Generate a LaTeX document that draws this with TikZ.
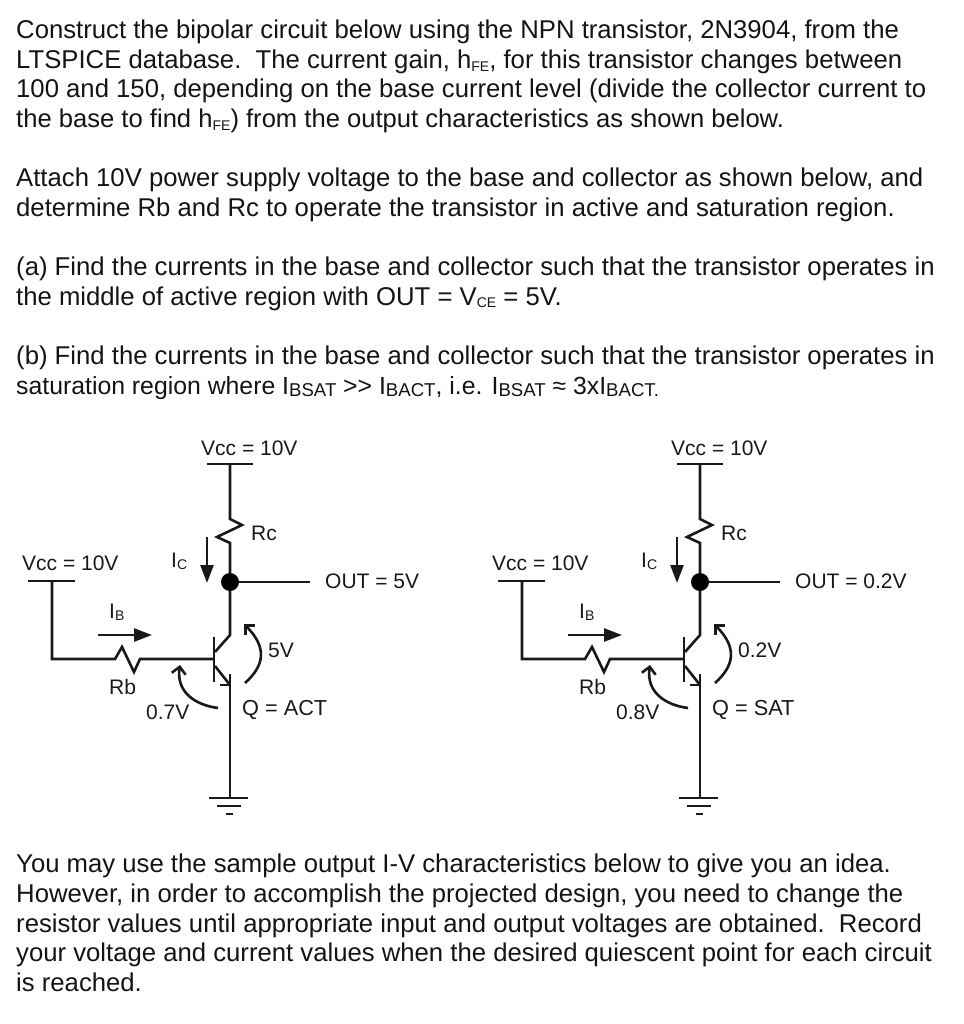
\documentclass[tikz,border=0pt]{standalone}
\usepackage{fontspec}
\setmainfont{Liberation Sans}
\usetikzlibrary{arrows.meta}
\newcommand{\sbs}[1]{\raisebox{-0.1em}{\fontsize{14pt}{14pt}\selectfont #1}}
\newcommand{\sbl}[1]{\raisebox{-0.1em}{\fontsize{18.6pt}{19pt}\selectfont #1}}
\newcommand{\sbn}[1]{\raisebox{-0.1em}{\fontsize{14pt}{14pt}\selectfont #1}}
\newcommand{\drawcircuit}[6]{%
\begin{scope}[xshift=#2pt]
  % named points
  \coordinate (#1topL) at (207,464); \coordinate (#1topR) at (253,464); \coordinate (#1top) at (230,464);
  \coordinate (#1rcA) at (230,519); \coordinate (#1rcB) at (242,525); \coordinate (#1rcC) at (217,537); \coordinate (#1rcD) at (230,543);
  \node[dot] (#1j) at (230,582) {};
  \coordinate (#1out) at (310,582);
  \coordinate (#1col) at (230,635); \coordinate (#1colB) at (215,652);
  \coordinate (#1barT) at (214,637); \coordinate (#1barB) at (214,682); \coordinate (#1base) at (214,659);
  \coordinate (#1emB) at (215,666); \coordinate (#1emT) at (230,685); \coordinate (#1emL) at (220,685);
  \coordinate (#1emW) at (230,674); \coordinate (#1gnd) at (230,798);
  \coordinate (#1g1L) at (209,798); \coordinate (#1g1R) at (248,798);
  \coordinate (#1g2L) at (217,806); \coordinate (#1g2R) at (241,806);
  \coordinate (#1g3L) at (226,814); \coordinate (#1g3R) at (233,814);
  \coordinate (#1vbL) at (28,581); \coordinate (#1vbR) at (75,581); \coordinate (#1vb) at (52,581);
  \coordinate (#1cor) at (52,659); \coordinate (#1rbA) at (115,659); \coordinate (#1rbB) at (122,647);
  \coordinate (#1rbC) at (134,672); \coordinate (#1rbD) at (140,659);
  % wires
  \draw[wire] (#1topL) -- (#1topR);
  \draw[wire] (#1top) -- (#1rcA) -- (#1rcB) -- (#1rcC) -- (#1rcD) -- (#1j) -- (#1col) -- (#1colB);
  \draw[wire] (#1j) -- (#1out);
  \draw[wire] (#1barT) -- (#1barB);
  \draw[wire] (#1emB) -- (#1emT);
  \draw[wire] (#1emL) -- (#1emT);
  \draw[wire] (#1emW) -- (#1gnd);
  \draw[wire] (#1g1L) -- (#1g1R);
  \draw[wire] (#1g2L) -- (#1g2R);
  \draw[wire] (#1g3L) -- (#1g3R);
  \draw[wire] (#1vbL) -- (#1vbR);
  \draw[wire] (#1vb) -- (#1cor) -- (#1rbA) -- (#1rbB) -- (#1rbC) -- (#1rbD) -- (#1base);
  % current arrows
  \coordinate (#1icA) at (207,537); \coordinate (#1icB) at (207,583);
  \coordinate (#1ibA) at (98,635); \coordinate (#1ibB) at (152,635);
  \draw[wire,-{Triangle[length=18pt,width=13pt]}] (#1icA) -- (#1icB);
  \draw[wire,-{Triangle[length=18pt,width=13pt]}] (#1ibA) -- (#1ibB);
  % voltage arrows
  \coordinate (#1vcA) at (245,683); \coordinate (#1vcB) at (244,624);
  \coordinate (#1vbeA) at (218,708); \coordinate (#1vbeB) at (180,665);
  \draw[wire,-{Straight Barb[length=7pt,width=14pt]}] (#1vcA) .. controls (264,666) and (268,648) .. (#1vcB);
  \draw[wire,-{Straight Barb[length=7pt,width=14pt]}] (#1vbeA) .. controls (195,705) and (176,692) .. (#1vbeB);
  % labels
  \node[lab] (#1lvcc) at (201,448) {Vcc = 10V};
  \node[lab] (#1lvb) at (22,563) {Vcc = 10V};
  \node[lab] (#1lrc) at (251,533) {Rc};
  \node[lab] (#1lrb) at (109,687) {Rb};
  \node[lab] (#1lic) at (171,561) {I\sbn{C}};
  \node[lab] (#1lib) at (109,612) {I\sbn{B}};
  \node[lab] (#1lout) at (325,581) {#3};
  \node[lab] (#1lvce) at (#4,650) {#5};
  \node[lab] (#1lvbe) at (146,712) {#6};
  \node[lab,font=\fontsize{21.7pt}{23pt}\selectfont] (#1lq) at (242,710) {Q = \ifnum#2=0 ACT\else SAT\fi};
\end{scope}}
\tikzset{
  wire/.style={line width=2.6pt,draw=black!90,line cap=butt},
  dot/.style={circle,fill=black,minimum size=18pt,inner sep=0pt,draw=none},
  lab/.style={anchor=west,inner sep=0pt,font=\fontsize{21pt}{23pt}\selectfont,text=black!90},
  para/.style={anchor=base west,inner sep=0pt,font=\fontsize{25.7pt}{28pt}\selectfont,text=black!92}
}
\begin{document}
\begin{tikzpicture}[x=1pt,y=-1pt]
\useasboundingbox (0,0) rectangle (963,1024);
\node[para] (l1) at (16,39) {Construct the bipolar circuit below using the NPN transistor, 2N3904, from the};
\node[para] (l2) at (16,69) {LTSPICE database.\ \ The current gain, h\sbs{FE}, for this transistor changes between};
\node[para] (l3) at (16,98) {100 and 150, depending on the base current level (divide the collector current to};
\node[para,font=\fontsize{25.6pt}{28pt}\selectfont] (l4) at (16,128) {the base to find h\sbs{FE}) from the output characteristics as shown below.};
\node[para] (l5) at (16,187) {Attach 10V power supply voltage to the base and collector as shown below, and};
\node[para] (l6) at (16,217) {determine Rb and Rc to operate the transistor in active and saturation region.};
\node[para] (l7) at (16,275) {(a) Find the currents in the base and collector such that the transistor operates in};
\node[para] (l8) at (16,305) {the middle of active region with OUT = V\sbs{CE} = 5V.};
\node[para] (l9) at (16,364) {(b) Find the currents in the base and collector such that the transistor operates in};
\node[para,font=\fontsize{24.8pt}{28pt}\selectfont] (l10) at (16,394) {saturation region where I\sbl{BSAT} >{}> I\sbl{BACT}, i.e. I\sbl{BSAT} ≈ 3xI\sbl{BACT.}};
\drawcircuit{a}{0}{OUT = 5V}{268}{5V}{0.7V}
\drawcircuit{b}{470}{OUT = 0.2V}{268}{0.2V}{0.8V}
\node[para] (l11) at (16,872) {You may use the sample output I-V characteristics below to give you an idea.};
\node[para] (l12) at (16,902) {However, in order to accomplish the projected design, you need to change the};
\node[para] (l13) at (16,932) {resistor values until appropriate input and output voltages are obtained.\ \ Record};
\node[para] (l14) at (16,961) {your voltage and current values when the desired quiescent point for each circuit};
\node[para] (l15) at (16,991) {is reached.};
\end{tikzpicture}
\end{document}
